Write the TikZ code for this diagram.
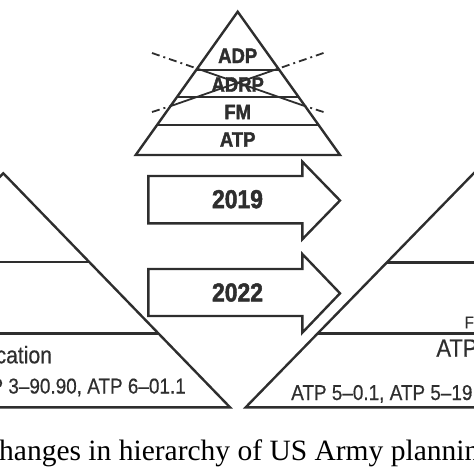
\documentclass[tikz,border=0pt]{standalone}
\usepackage{fontspec}
\setmainfont{Liberation Serif}
\newfontfamily\condsans[FakeStretch=0.88,FakeBold=0.5,BoldFeatures={FakeBold=1.8}]{Liberation Sans}
\definecolor{ink}{HTML}{2E2E2E}

\begin{document}
\begin{tikzpicture}[x=1pt,y=-1pt,line join=miter,
    frame/.style={draw=ink,line width=2.4pt},
    cutline/.style={draw=ink,line width=1.8pt},
    dashdot/.style={cutline,dash pattern=on 8pt off 4pt on 2pt off 4pt},
    level/.style={font=\condsans\bfseries\fontsize{21}{24}\selectfont,text=ink,inner sep=0pt},
    year/.style={font=\condsans\bfseries\fontsize{26}{30}\selectfont,text=ink,inner sep=0pt},
    pub/.style={font=\condsans\fontsize{21.5}{26}\selectfont,text=ink,inner sep=0pt}]
    \useasboundingbox (0,0) rectangle (474,474);
    \clip (0,0) rectangle (474,474);
    % top pyramid
    \draw[frame] (237.7,11.7) -- (340,155) -- (135.7,155) -- cycle;
    \draw[frame] (195.8,70) -- (279.6,70);
    \draw[frame] (176.8,96.7) -- (298.6,96.7);
    \draw[frame] (156.6,125) -- (318.8,125);
    \draw
        (237.7,55.8) node[level] (adp) {ADP}
        (237.7,84.5) node[level] (adrp) {ADRP}
        (237.7,112) node[level] (fm) {FM}
        (237.7,139.5) node[level] (atp) {ATP}
        ;
    % crossed out level
    \coordinate (a1) at (152,53);
    \coordinate (a2) at (197.2,68.6);
    \coordinate (a3) at (304.6,106);
    \coordinate (a4) at (323.5,112);
    \coordinate (b1) at (323.5,53);
    \coordinate (b2) at (278.3,68.6);
    \coordinate (b3) at (170.9,106);
    \coordinate (b4) at (152,112);
    \draw[dashdot] (a1) -- (a2);
    \draw[cutline] (a2) -- (a3);
    \draw[dashdot] (a4) -- (a3);
    \draw[dashdot] (b1) -- (b2);
    \draw[cutline] (b2) -- (b3);
    \draw[dashdot] (b4) -- (b3);
    % arrows
    \draw[frame] (148.3,176) -- (302.3,176) -- (302.3,161.7) -- (340,200.5)
        -- (302.3,239.3) -- (302.3,223.3) -- (148.3,223.3) -- cycle;
    \draw[frame] (148.3,269) -- (302.3,269) -- (302.3,254) -- (340,293.3)
        -- (302.3,332.7) -- (302.3,316) -- (148.3,316) -- cycle;
    \node[year] (y2019) at (237.5,199.2) {2019};
    \node[year] (y2022) at (237.5,292.5) {2022};
    % left pyramid
    \draw[frame] (3.3,173.3) -- (230,407.3) -- (-223.4,407.3) -- cycle;
    \draw[frame] (-82.4,261.7) -- (89,261.7);
    \draw[frame] (-151.7,333.3) -- (158.3,333.3);
    \node[pub,font=\condsans\fontsize{24}{28}\selectfont,anchor=base west] (oldname) at (-4.6,363.3) {cation};
    \node[pub,anchor=base east] (oldpubs) at (186,393.5) {P 3–90.90, ATP 6–01.1};
    % right pyramid
    \draw[frame] (474,173) -- (702.3,407.3) -- (245.7,407.3) -- cycle;
    \draw[frame] (387,262.3) -- (561,262.3);
    \draw[frame] (317.8,333.3) -- (630.2,333.3);
    \node[pub,font=\condsans\fontsize{17}{20}\selectfont,anchor=base west] (newfm) at (464.5,328.3) {F};
    \node[pub,font=\condsans\fontsize{25}{30}\selectfont,anchor=base west] (newatp) at (436.2,356.7) {ATP};
    \node[pub,anchor=base west] (newpubs) at (291,400) {ATP 5–0.1, ATP 5–19};
    % caption
    \node[anchor=base west,inner sep=0pt,font=\fontsize{29.5}{34}\selectfont] (caption) at (-1,460.7) {hanges in hierarchy of US Army plannin};
\end{tikzpicture}
\end{document}
